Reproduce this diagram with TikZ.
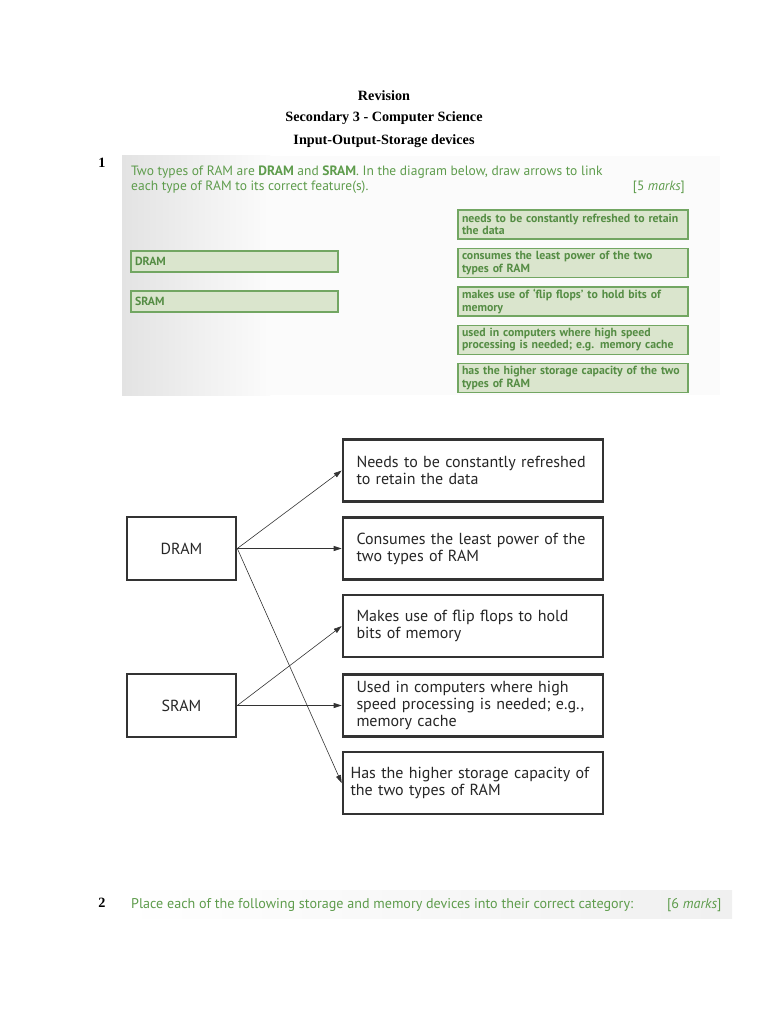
\documentclass[tikz,border=0pt]{standalone}
\usepackage{fontspec}
\setmainfont{Liberation Serif}
\newfontfamily\qfont{PT Sans}
\usetikzlibrary{arrows.meta, positioning}
\definecolor{qgreen}{HTML}{5E9C4C}
\definecolor{boxgreen}{HTML}{DAE5CD}
\definecolor{edgegreen}{HTML}{72A662}
\definecolor{inkgrey}{HTML}{333333}

\begin{document}
\begin{tikzpicture}[x=1pt, y=-1pt,
        heading/.style={font=\fontsize{14.2}{16}\selectfont\bfseries, inner sep=0pt},
        qtext/.style={font=\qfont\fontsize{13.5}{15}\selectfont, text=qgreen, inner sep=0pt, anchor=base west},
        greenbox/.style={rectangle, draw=edgegreen, line width=1.4pt, fill=boxgreen, inner xsep=4pt, inner ysep=0pt, align=left, font=\qfont\bfseries\fontsize{11.8}{12.6}\selectfont, text=qgreen!90!black},
        featbox/.style={greenbox, text width=222pt, minimum height=29pt},
        rambox/.style={greenbox, text width=199pt, minimum height=21pt},
        block/.style={rectangle, draw=inkgrey, line width=2.6pt, fill=white, font=\qfont\fontsize{16}{17}\selectfont, text=black!85},
        feature/.style={block, text width=233pt, inner xsep=13.5pt, minimum height=62pt, align=left},
        ram/.style={block, minimum width=109pt, minimum height=63pt},
        arrow/.style={-{Triangle[length=8pt, width=5pt]}, line width=0.6pt, draw=black!80}
    ]
        \useasboundingbox (0,0) rectangle (768,1024);
        \node[heading] (title) at (384,96) {Revision};
        \node[heading] (course) at (384,118) {Secondary 3 - Computer Science};
        \node[heading] (topic) at (384,141) {Input-Output-Storage devices};
        \node[heading, anchor=base] (qone) at (102,168) {1};
        \node[heading, anchor=base] (qtwo) at (102,907) {2};

        \shade[left color=gray!22, right color=gray!3] (122,156) rectangle (270,395);
        \fill[gray!3] (270,156) rectangle (720,395);
        \node[qtext] (ask) at (131,176) {Two types of RAM are \textbf{DRAM} and \textbf{SRAM}. In the diagram below, draw arrows to link};
        \node[qtext] (ask2) at (131,191) {each type of RAM to its correct feature(s).};
        \node[qtext, anchor=base east] (marks) at (685,191) {[5 \textit{marks}]};

        \node[featbox] (grefresh) at (573,224.5) {needs to be constantly refreshed to retain\\the data};
        \node[featbox, below=8pt of grefresh] (gpower) {consumes the least power of the two\\types of RAM};
        \node[featbox, below=8pt of gpower] (gflip) {makes use of ‘flip flops’ to hold bits of\\memory};
        \node[featbox, below=8pt of gflip] (gcache) {used in computers where high speed\\processing is needed; e.g. memory cache};
        \node[featbox, below=8pt of gcache] (gcapacity) {has the higher storage capacity of the two\\types of RAM};
        \node[rambox] (gdram) at (234.5,261.5) {DRAM};
        \node[rambox] (gsram) at (234.5,301.5) {SRAM};

        \node[ram] (dram) at (181.5,548.5) {DRAM};
        \node[ram] (sram) at (181.5,705.5) {SRAM};
        \node[feature] (refresh) at (473,470.5) {Needs to be constantly refreshed\\to retain the data};
        \node[feature] (power) at (refresh |- dram) {Consumes the least power of the\\two types of RAM};
        \node[feature, below=13pt of power] (flip) {Makes use of flip flops to hold\\bits of memory};
        \node[feature] (cache) at (refresh |- sram) {Used in computers where high\\speed processing is needed; e.g.,\\memory cache};
        \node[feature, text width=245pt, inner xsep=7.5pt, below=13pt of cache] (capacity) {Has the higher storage capacity of\\the two types of RAM};

        \draw[arrow] (dram.east) -- (refresh.west);
        \draw[arrow] (dram.east) -- (power.west);
        \draw[arrow] (dram.east) -- (capacity.west);
        \draw[arrow] (sram.east) -- (flip.west);
        \draw[arrow] (sram.east) -- (cache.west);

        \shade[left color=white, right color=gray!12] (122,890) rectangle (732,918);
        \begin{scope}
            \clip (122,880) rectangle (732,925);
            \node[qtext, font=\qfont\fontsize{14.1}{16}\selectfont] (place) at (131,908) {Place each of the following storage and memory devices into their correct category:};
            \node[qtext, font=\qfont\fontsize{14.1}{16}\selectfont] (marks2) at (667,908) {[6 \textit{marks}]};
        \end{scope}
    \end{tikzpicture}
\end{document}
